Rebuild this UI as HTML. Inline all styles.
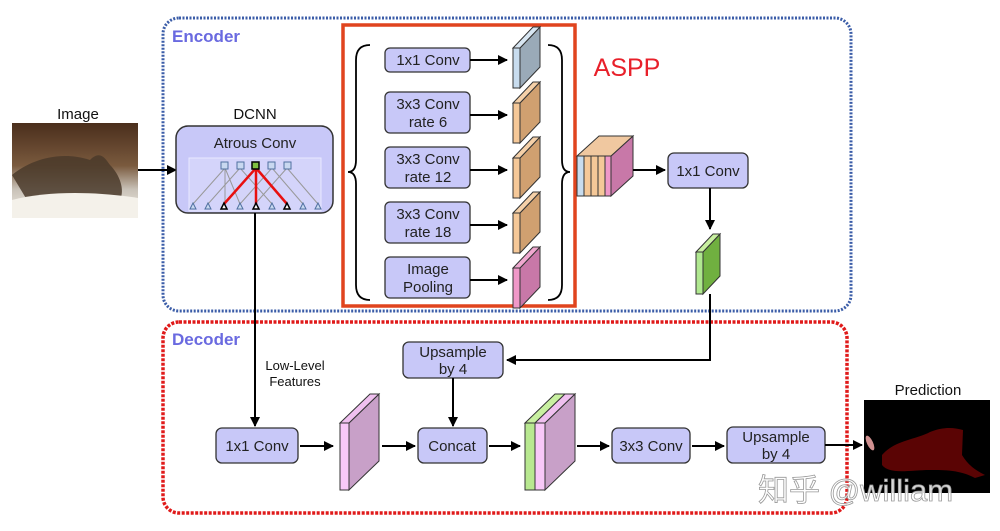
<!DOCTYPE html>
<html><head><meta charset="utf-8"><style>
html,body{margin:0;padding:0;background:#fff;}
svg{display:block;font-family:"Liberation Sans","Noto Sans CJK SC",sans-serif;}
</style></head><body>
<svg width="1000" height="531" viewBox="0 0 1000 531" xmlns="http://www.w3.org/2000/svg">
<defs>
<marker id="ar" markerWidth="10" markerHeight="10" refX="9" refY="5" orient="auto" markerUnits="userSpaceOnUse"><path d="M0,0 L10,5 L0,10 z" fill="#000"/></marker>
<linearGradient id="photo" x1="0" y1="0" x2="0" y2="1"><stop offset="0" stop-color="#4a2e1c"/><stop offset="0.45" stop-color="#7a5a3e"/><stop offset="0.7" stop-color="#c9c2b8"/><stop offset="1" stop-color="#f2efe8"/></linearGradient>
</defs>
<rect width="1000" height="531" fill="#fff"/>
<rect x="163" y="18" width="688" height="293" rx="16" fill="none" stroke="#3b5da8" stroke-width="3" stroke-dasharray="2 1.5"/>
<text x="172" y="42" font-size="17" font-weight="bold" fill="#6a6ae0">Encoder</text>
<rect x="163" y="322" width="684" height="191" rx="16" fill="none" stroke="#e01a1a" stroke-width="3.5" stroke-dasharray="3 1.5"/>
<text x="172" y="345" font-size="17" font-weight="bold" fill="#6a6ae0">Decoder</text>

<text x="78" y="119" font-size="15" text-anchor="middle" fill="#111">Image</text>
<rect x="12" y="123" width="126" height="95" fill="url(#photo)"/>
<path d="M12,175 C30,160 60,150 90,160 C100,150 105,158 110,165 C120,175 125,190 120,200 L30,205 z" fill="#4a3a2a" opacity="0.85"/>
<path d="M12,200 C50,190 100,192 138,198 L138,218 L12,218 z" fill="#f4f1ea"/>
<line x1="138" y1="170" x2="176" y2="170" stroke="#000" stroke-width="2" marker-end="url(#ar)"/>

<text x="255" y="119" font-size="15" text-anchor="middle" fill="#111">DCNN</text>
<rect x="176" y="126" width="157" height="87" rx="12" fill="#c8c8f8" stroke="#333" stroke-width="1.5"/>
<text x="255" y="148" font-size="15" text-anchor="middle" fill="#222">Atrous Conv</text>
<rect x="189" y="158" width="132" height="53" fill="#d4d4fa" stroke="#e8e8ff" stroke-width="1"/>
<g stroke="#999" stroke-width="1">
<line x1="225" y1="168" x2="193" y2="204"/><line x1="225" y1="168" x2="225" y2="204"/><line x1="225" y1="168" x2="240" y2="204"/>
<line x1="240" y1="168" x2="208" y2="204"/><line x1="240" y1="168" x2="272" y2="204"/>
<line x1="272" y1="168" x2="240" y2="204"/><line x1="272" y1="168" x2="303" y2="204"/>
<line x1="287" y1="168" x2="255" y2="204"/><line x1="287" y1="168" x2="318" y2="204"/>
</g>
<g stroke="#e81010" stroke-width="2.5"><line x1="256" y1="168" x2="224" y2="204"/><line x1="256" y1="168" x2="256" y2="204"/><line x1="256" y1="168" x2="287" y2="204"/></g>
<g fill="#c8d8f0" stroke="#5070a0" stroke-width="1"><rect x="221" y="162" width="7" height="7"/><rect x="237" y="162" width="7" height="7"/><rect x="268" y="162" width="7" height="7"/><rect x="284" y="162" width="7" height="7"/></g>
<rect x="252" y="162" width="7" height="7" fill="#80c040" stroke="#000" stroke-width="1.5"/>
<g fill="#c8d8f0" stroke="#5070a0" stroke-width="1">
<path d="M193,203 l-3,6 h6z"/><path d="M208,203 l-3,6 h6z"/><path d="M240,203 l-3,6 h6z"/><path d="M272,203 l-3,6 h6z"/><path d="M303,203 l-3,6 h6z"/><path d="M318,203 l-3,6 h6z"/></g>
<g fill="#fff" stroke="#000" stroke-width="1.5"><path d="M224,203 l-3,6 h6z"/><path d="M256,203 l-3,6 h6z"/><path d="M287,203 l-3,6 h6z"/></g>
<line x1="255" y1="213" x2="255" y2="426" stroke="#000" stroke-width="2" marker-end="url(#ar)"/>
<text x="295" y="370" font-size="13" text-anchor="middle" fill="#111">Low-Level</text>
<text x="295" y="386" font-size="13" text-anchor="middle" fill="#111">Features</text>

<rect x="343" y="25" width="232" height="281" fill="none" stroke="#e0441e" stroke-width="3.5"/>
<text x="627" y="76" font-size="25" text-anchor="middle" fill="#e8202a">ASPP</text>
<path d="M370,45 Q356,45 356,60 L356,160 Q356,172 348,172 Q356,172 356,184 L356,285 Q356,300 370,300" fill="none" stroke="#000" stroke-width="1.8"/>
<path d="M548,45 Q562,45 562,60 L562,160 Q562,172 570,172 Q562,172 562,184 L562,285 Q562,300 548,300" fill="none" stroke="#000" stroke-width="1.8"/>
<g fill="#c8c8f8" stroke="#333" stroke-width="1.3">
<rect x="385" y="48" width="85" height="24" rx="5"/>
<rect x="385" y="92" width="85" height="41" rx="5"/>
<rect x="385" y="147" width="85" height="41" rx="5"/>
<rect x="385" y="202" width="85" height="41" rx="5"/>
<rect x="385" y="257" width="85" height="41" rx="5"/>
</g>
<g font-size="15" text-anchor="middle" fill="#222">
<text x="428" y="65">1x1 Conv</text>
<text x="428" y="109">3x3 Conv</text><text x="428" y="127">rate 6</text>
<text x="428" y="164">3x3 Conv</text><text x="428" y="182">rate 12</text>
<text x="428" y="219">3x3 Conv</text><text x="428" y="237">rate 18</text>
<text x="428" y="274">Image</text><text x="428" y="292">Pooling</text>
</g>
<g stroke="#000" stroke-width="2" marker-end="url(#ar)">
<line x1="470" y1="60" x2="507" y2="60"/><line x1="470" y1="115" x2="507" y2="115"/><line x1="470" y1="170" x2="507" y2="170"/><line x1="470" y1="225" x2="507" y2="225"/><line x1="470" y1="280" x2="507" y2="280"/>
</g>
<g stroke="#333" stroke-width="1">
<path d="M520,48 l20,-21 v40 l-20,21z" fill="#9aaab8"/><path d="M513,48 l20,-21 h7 l-20,21z" fill="#d8e6f2"/><rect x="513" y="48" width="7" height="40" fill="#c8dcee"/>
<path d="M520,103 l20,-21 v40 l-20,21z" fill="#d0a070"/><path d="M513,103 l20,-21 h7 l-20,21z" fill="#f5d0a8"/><rect x="513" y="103" width="7" height="40" fill="#f5c898"/>
<path d="M520,158 l20,-21 v40 l-20,21z" fill="#d0a070"/><path d="M513,158 l20,-21 h7 l-20,21z" fill="#f5d0a8"/><rect x="513" y="158" width="7" height="40" fill="#f5c898"/>
<path d="M520,213 l20,-21 v40 l-20,21z" fill="#d0a070"/><path d="M513,213 l20,-21 h7 l-20,21z" fill="#f5d0a8"/><rect x="513" y="213" width="7" height="40" fill="#f5c898"/>
<path d="M520,268 l20,-21 v40 l-20,21z" fill="#c878a8"/><path d="M513,268 l20,-21 h7 l-20,21z" fill="#f0a8d0"/><rect x="513" y="268" width="7" height="40" fill="#f098c8"/>
</g>
<g stroke="#333" stroke-width="1">
<path d="M611,156 l22,-20 v40 l-22,20z" fill="#c878a8"/>
<path d="M577,156 l22,-20 h34 l-22,20z" fill="#f0c8a0"/>
<rect x="577" y="156" width="7" height="40" fill="#c8dcee"/>
<rect x="584" y="156" width="7" height="40" fill="#f5c898"/>
<rect x="591" y="156" width="7" height="40" fill="#f5c898"/>
<rect x="598" y="156" width="7" height="40" fill="#f5c898"/>
<rect x="605" y="156" width="6" height="40" fill="#f098c8"/>
</g>
<line x1="633" y1="170" x2="665" y2="170" stroke="#000" stroke-width="2" marker-end="url(#ar)"/>
<rect x="668" y="153" width="80" height="35" rx="6" fill="#c8c8f8" stroke="#333" stroke-width="1.3"/>
<text x="708" y="176" font-size="15" text-anchor="middle" fill="#222">1x1 Conv</text>
<line x1="710" y1="188" x2="710" y2="229" stroke="#000" stroke-width="2" marker-end="url(#ar)"/>
<g stroke="#333" stroke-width="1">
<path d="M703,252 l17,-18 v42 l-17,18z" fill="#70b040"/><path d="M696,252 l17,-18 h7 l-17,18z" fill="#c8f0a0"/><rect x="696" y="252" width="7" height="42" fill="#b0e890"/>
</g>
<polyline points="710,294 710,360 507,360" fill="none" stroke="#000" stroke-width="2" marker-end="url(#ar)"/>
<rect x="403" y="342" width="100" height="36" rx="6" fill="#c8c8f8" stroke="#333" stroke-width="1.3"/>
<text x="453" y="357" font-size="15" text-anchor="middle" fill="#222">Upsample</text>
<text x="453" y="374" font-size="15" text-anchor="middle" fill="#222">by 4</text>
<line x1="453" y1="378" x2="453" y2="426" stroke="#000" stroke-width="2" marker-end="url(#ar)"/>

<g fill="#c8c8f8" stroke="#333" stroke-width="1.3">
<rect x="216" y="428" width="82" height="35" rx="6"/>
<rect x="418" y="428" width="69" height="35" rx="6"/>
<rect x="612" y="428" width="78" height="35" rx="6"/>
<rect x="727" y="427" width="98" height="36" rx="6"/>
</g>
<g font-size="15" text-anchor="middle" fill="#222">
<text x="257" y="451">1x1 Conv</text>
<text x="452" y="451">Concat</text>
<text x="651" y="451">3x3 Conv</text>
<text x="776" y="442">Upsample</text><text x="776" y="459">by 4</text>
</g>
<g stroke="#000" stroke-width="2" marker-end="url(#ar)">
<line x1="300" y1="446" x2="333" y2="446"/>
<line x1="382" y1="446" x2="415" y2="446"/>
<line x1="489" y1="446" x2="520" y2="446"/>
<line x1="577" y1="446" x2="609" y2="446"/>
<line x1="692" y1="446" x2="724" y2="446"/>
<line x1="825" y1="445" x2="862" y2="445"/>
</g>
<g stroke="#333" stroke-width="1">
<path d="M349,423 l30,-29 v67 l-30,29z" fill="#c8a0c8"/><path d="M340,423 l30,-29 h9 l-30,29z" fill="#f0c0f0"/><rect x="340" y="423" width="9" height="67" fill="#f8c8f8"/>
<path d="M545,423 l30,-29 v67 l-30,29z" fill="#c8a0c8"/><path d="M525,423 l30,-29 h10 l-30,29z" fill="#c8f0a0"/><path d="M535,423 l30,-29 h10 l-30,29z" fill="#f0c0f0"/>
<rect x="525" y="423" width="10" height="67" fill="#b8e890"/><rect x="535" y="423" width="10" height="67" fill="#f8c8f8"/>
</g>

<text x="928" y="395" font-size="15" text-anchor="middle" fill="#111">Prediction</text>
<rect x="864" y="400" width="126" height="93" fill="#000"/>
<path d="M882,455 C895,440 915,440 930,432 C945,426 955,428 963,430 L962,455 C968,465 975,470 985,475 L975,478 C960,470 945,470 930,470 C910,470 890,475 882,465 z" fill="#5a0404"/>
<ellipse cx="870" cy="443" rx="3" ry="8" fill="#d09090" transform="rotate(-25 870 443)"/>
<text x="758" y="501" font-size="31" fill="#ffffff" fill-opacity="0.85" stroke="#999" stroke-width="0.8">知乎 @william</text>
</svg>
</body></html>
